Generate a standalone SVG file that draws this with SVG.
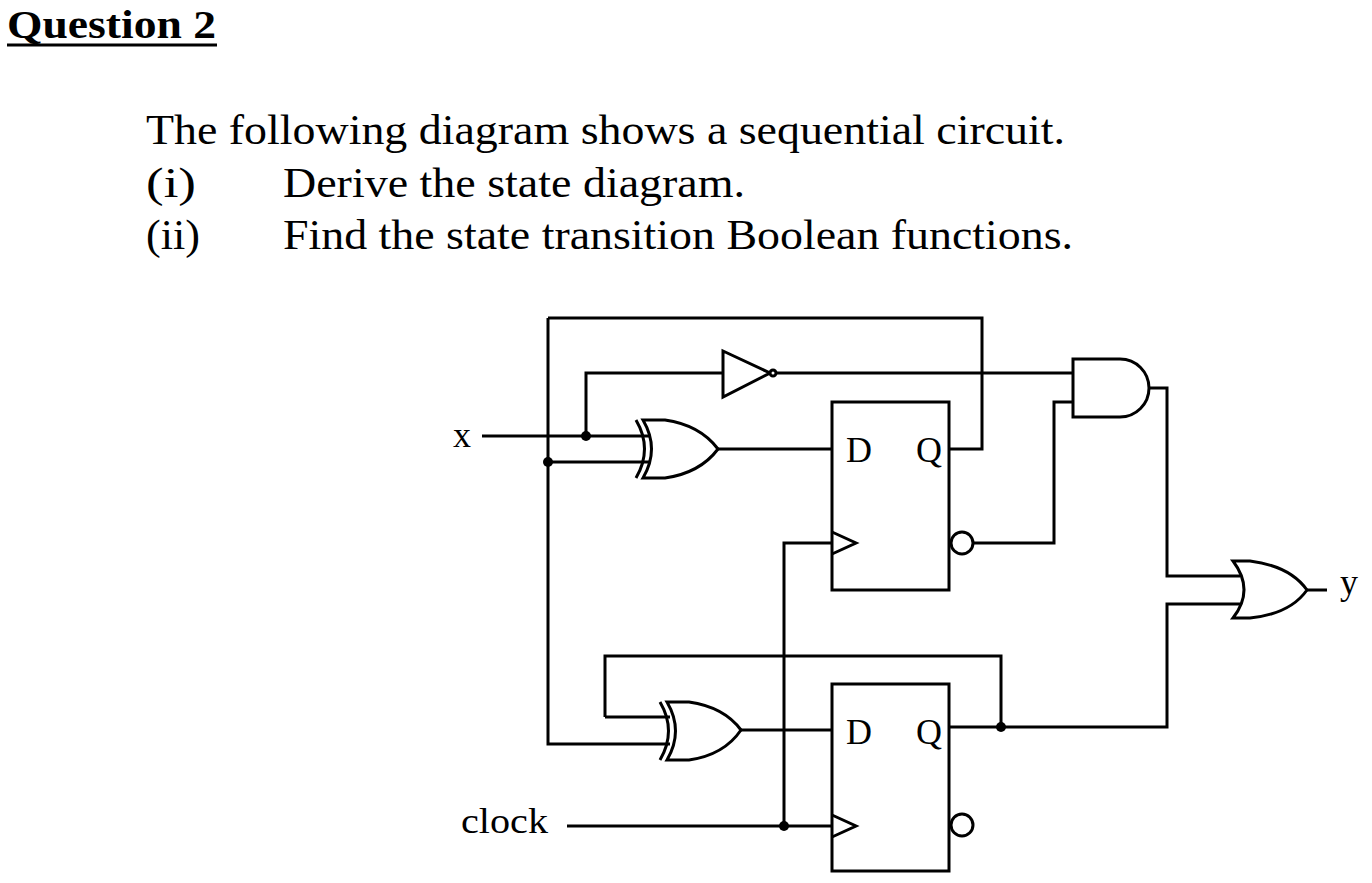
<svg xmlns="http://www.w3.org/2000/svg" width="1372" height="883" viewBox="0 0 1372 883">
<style>
.w{fill:none;stroke:#000;stroke-width:3;stroke-linejoin:miter}
.g{fill:#fff;stroke:#000;stroke-width:3}
.t{font-family:"Liberation Serif",serif;fill:#000}
.dot{fill:#000}
</style>
<rect width="1372" height="883" fill="#fff"/>
<g id="text">
<text class="t" x="7" y="38" font-size="40" font-weight="bold" textLength="209" lengthAdjust="spacingAndGlyphs">Question 2</text>
<line x1="7" y1="45" x2="217" y2="45" stroke="#000" stroke-width="3"/>
<text class="t" x="146" y="144" font-size="43" textLength="919" lengthAdjust="spacingAndGlyphs">The following diagram shows a sequential circuit.</text>
<text class="t" x="146" y="197" font-size="43" textLength="50" lengthAdjust="spacingAndGlyphs">(i)</text>
<text class="t" x="283" y="197" font-size="43" textLength="462" lengthAdjust="spacingAndGlyphs">Derive the state diagram.</text>
<text class="t" x="146" y="249" font-size="43" textLength="54" lengthAdjust="spacingAndGlyphs">(ii)</text>
<text class="t" x="283" y="249" font-size="43" textLength="790" lengthAdjust="spacingAndGlyphs">Find the state transition Boolean functions.</text>
<text class="t" x="453" y="447" font-size="36">x</text>
<text class="t" x="461" y="833" font-size="36" textLength="87" lengthAdjust="spacingAndGlyphs">clock</text>
<text class="t" x="1340" y="594" font-size="36">y</text>
</g>
<g id="connectors">
<path class="w" d="M482 436H650M586 436V373H723M776 373H1075M548 462H650M548 318H982V449H949M718 449H832M784 826V543H832M567 826H832M973 543H1054V402H1075M1148 388H1167V576H1240M1307 590H1327M1240 604H1167V727H949M605 717V656H1001V727M605 717H670M548 318V744H670M741 730H832"/>
<circle class="dot" cx="586" cy="436" r="5"/>
<circle class="dot" cx="548" cy="462" r="5"/>
<circle class="dot" cx="784" cy="826" r="5"/>
<circle class="dot" cx="1001" cy="727" r="5"/>
</g>
<g id="not"><path class="g" d="M723 351L770 373L723 397Z"/><circle class="g" cx="773" cy="373" r="3" stroke-width="2"/></g>
<g id="xor1"><path class="g" d="M643 420H665Q700 425 718 449Q700 473 665 478H643Q660 449 643 420Z"/><path class="w" d="M636 420Q653 449 636 478"/></g>
<g id="xor2"><path class="g" d="M667 702H689Q724 707 741 730Q724 755 689 760H667Q684 731 667 702Z"/><path class="w" d="M660 702Q677 731 660 760"/></g>
<g id="and"><path class="g" d="M1073 359H1120A29 29 0 0 1 1120 417H1073Z"/></g>
<g id="or"><path class="g" d="M1233 561H1250Q1290 566 1307 590Q1290 614 1250 618H1233Q1255 590 1233 561Z"/></g>
<g id="ff1"><rect class="g" x="832" y="402" width="117" height="188"/><path class="w" d="M832 532L856 543L832 554"/><circle class="g" cx="962" cy="543" r="11"/><text class="t" x="846" y="462" font-size="36">D</text><text class="t" x="916" y="462" font-size="36">Q</text></g>
<g id="ff2"><rect class="g" x="832" y="684" width="117" height="187"/><path class="w" d="M832 815L856 826L832 837"/><circle class="g" cx="962" cy="825" r="11"/><text class="t" x="846" y="744" font-size="36">D</text><text class="t" x="916" y="744" font-size="36">Q</text></g>
</svg>
